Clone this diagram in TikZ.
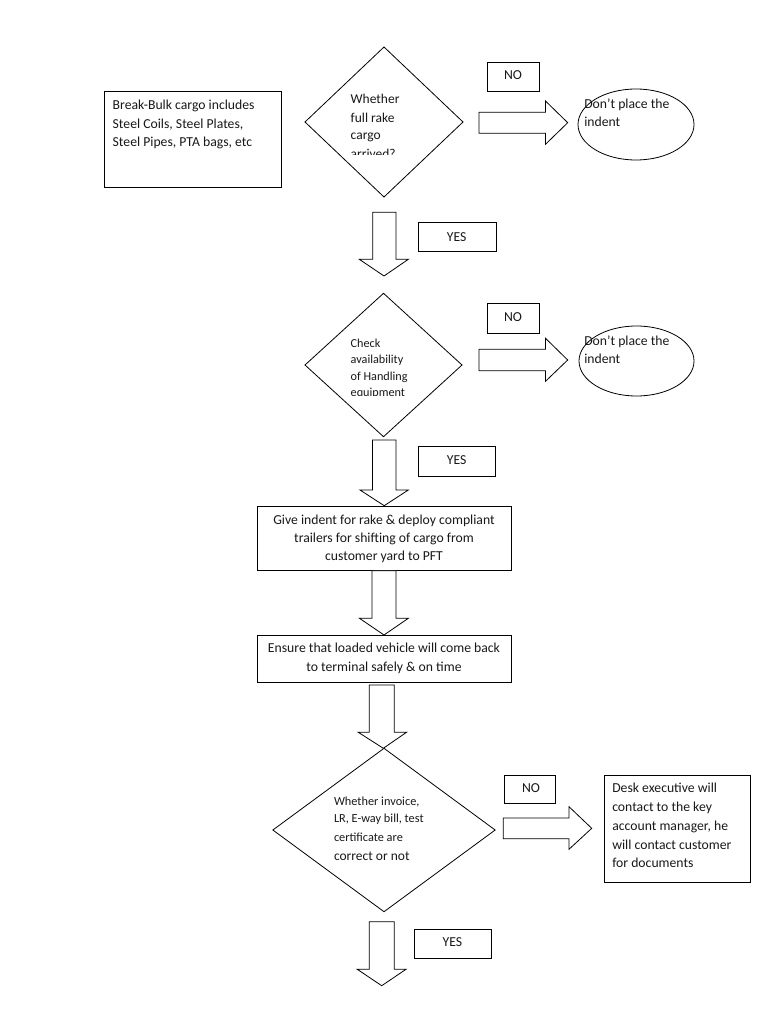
\documentclass[tikz,border=0pt]{standalone}
\usepackage{fontspec}
\setmainfont{Carlito}
\usetikzlibrary{shapes.geometric}
\tikzset{
  shp/.style={draw=black, line width=0.8pt},
  boxn/.style={shp, rectangle, inner sep=0pt, outer sep=0pt},
  ell/.style={shp, ellipse, inner sep=0pt, outer sep=0pt},
  dia/.style={shp, diamond, inner sep=0pt, outer sep=0pt},
  tx/.style={inner sep=0pt, outer sep=0pt, text=black!90, font=\fontsize{13.7}{16}\selectfont},
  txs/.style={inner sep=0pt, outer sep=0pt, text=black!90, font=\fontsize{12.3}{15}\selectfont},
  barrow/.style={shp, fill=white, line join=miter},
}
% down block arrow: shaft left x, shaft right x, top y, head y, head left x, head right x, tip x, tip y
\newcommand{\DownBlock}[8]{\draw[barrow] (#1,#3) -- (#2,#3) -- (#2,#4) -- (#6,#4) -- (#7,#8) -- (#5,#4) -- (#1,#4) -- cycle;}
% right block arrow: shaft left x, shaft top y, shaft bottom y, head base x, head top y, head bottom y, tip x, tip y
\newcommand{\RightBlock}[8]{\draw[barrow] (#1,#2) -- (#4,#2) -- (#4,#5) -- (#7,#8) -- (#4,#6) -- (#4,#3) -- (#1,#3) -- cycle;}
\begin{document}
\begin{tikzpicture}[x=1pt,y=-1pt]
\useasboundingbox[fill=white] (0,0) rectangle (768,1024);

% ---------- shapes ----------
\node[boxn, minimum width=177pt, minimum height=96pt] (bb) at (192.5,139) {};
\node[dia, minimum width=158pt, minimum height=150pt] (d1) at (384,122) {};
\node[boxn, minimum width=52pt, minimum height=29.4pt] (no1) at (513,77) {};
\node[ell, minimum width=116pt, minimum height=71pt] (e1) at (636,124.5) {};
\node[boxn, minimum width=78pt, minimum height=29.4pt] (yes1) at (457,237) {};

\node[dia, minimum width=157pt, minimum height=143.4pt] (d2) at (383.5,365) {};
\node[boxn, minimum width=52pt, minimum height=30pt] (no2) at (513,318.3) {};
\node[ell, minimum width=115pt, minimum height=70pt] (e2) at (636.5,361) {};
\node[boxn, minimum width=76.7pt, minimum height=29.3pt] (yes2) at (456.7,461.3) {};

\node[boxn, minimum width=254.4pt, minimum height=64pt] (give) at (384.5,538) {};
\node[boxn, minimum width=254.4pt, minimum height=46.6pt] (ens) at (384.5,659) {};

\node[dia, minimum width=222.3pt, minimum height=163.4pt] (d3) at (384,830) {};
\node[boxn, minimum width=50.7pt, minimum height=28.3pt] (no3) at (529.7,789.2) {};
\node[boxn, minimum width=145.7pt, minimum height=107.3pt] (desk) at (677.2,828.7) {};
\node[boxn, minimum width=77.7pt, minimum height=29.3pt] (yes3) at (452.8,943.7) {};

% ---------- block arrows ----------
\RightBlock{479}{112.3}{133.3}{545.5}{101}{144.3}{567.7}{122.7}
\RightBlock{479}{349.3}{370.7}{545.5}{338.3}{381.3}{567.7}{360}
\RightBlock{503.3}{818}{838.7}{569}{806.7}{849.3}{591.7}{828.3}
\DownBlock{372.7}{396}{212.3}{259.3}{359.3}{408.3}{384}{276}
\DownBlock{372.5}{396}{440}{490}{360}{408.3}{384.2}{505.7}
\DownBlock{372}{396}{570.7}{618.3}{359.5}{408.3}{384}{635}
\DownBlock{369.3}{394.3}{685}{732.3}{358.3}{406.5}{383.3}{748.3}
\DownBlock{369.3}{394.3}{921.7}{969.3}{357.3}{406}{381.7}{985.7}

% ---------- texts ----------
\node[tx, anchor=base west] (bbt1) at (112.7,110) {Break-Bulk cargo includes};
\node[tx, anchor=base west] (bbt2) at (112.7,128.3) {Steel Coils, Steel Plates,};
\node[tx, anchor=base west] (bbt3) at (112.7,146.7) {Steel Pipes, PTA bags, etc};

\node[tx, font=\fontsize{13.5}{16}\selectfont, anchor=base west] (d1t1) at (350.7,104) {Whether};
\node[tx, font=\fontsize{13.5}{16}\selectfont, anchor=base west] (d1t2) at (350.7,122.3) {full rake};
\node[tx, font=\fontsize{13.5}{16}\selectfont, anchor=base west] (d1t3) at (350.7,140) {cargo};
\begin{scope}
  \clip (330,130) rectangle (440,154.5);
  \node[tx, font=\fontsize{13.5}{16}\selectfont, anchor=base west] (d1t4) at (350.7,158.3) {arrived?};
\end{scope}

\node[tx, anchor=base] (no1t) at (513,80) {NO};
\node[tx, anchor=base west] (e1t1) at (584.3,108.3) {Don’t place the};
\node[tx, anchor=base west] (e1t2) at (584.3,126.7) {indent};
\node[tx, anchor=base] (yes1t) at (456.7,241) {YES};

\node[txs, font=\fontsize{12.2}{15}\selectfont, anchor=base west] (d2t1) at (350.7,347) {Check};
\node[txs, font=\fontsize{12.2}{15}\selectfont, anchor=base west] (d2t2) at (350.7,363.3) {availability};
\node[txs, font=\fontsize{12.2}{15}\selectfont, anchor=base west] (d2t3) at (350.7,380) {of Handling};
\begin{scope}
  \clip (330,385) rectangle (440,395);
  \node[txs, font=\fontsize{12.2}{15}\selectfont, anchor=base west] (d2t4) at (350.7,396.5) {equipment};
\end{scope}

\node[tx, anchor=base] (no2t) at (513,321.7) {NO};
\node[tx, anchor=base west] (e2t1) at (584.3,345) {Don’t place the};
\node[tx, anchor=base west] (e2t2) at (584.3,363.3) {indent};
\node[tx, anchor=base] (yes2t) at (456.7,464.7) {YES};

\node[tx, anchor=base] (gt1) at (384,524.3) {Give indent for rake \& deploy compliant};
\node[tx, anchor=base] (gt2) at (384,542.7) {trailers for shifting of cargo from};
\node[tx, anchor=base] (gt3) at (384,560.7) {customer yard to PFT};

\node[tx, anchor=base] (et1) at (384,652.3) {Ensure that loaded vehicle will come back};
\node[tx, anchor=base] (et2) at (384,671) {to terminal safely \& on time};

\node[txs, anchor=base west] (d3t1) at (334,805.7) {Whether invoice,};
\node[txs, anchor=base west] (d3t2) at (334,822.7) {LR, E-way bill, test};
\node[txs, anchor=base west] (d3t3) at (334,841.7) {certificate are};
\node[tx, font=\fontsize{13.5}{16}\selectfont, anchor=base west] (d3t4) at (334,860) {correct or not};

\node[tx, anchor=base] (no3t) at (531,792.7) {NO};
\node[tx, anchor=base west] (dt1) at (612.3,792.7) {Desk executive will};
\node[tx, anchor=base west] (dt2) at (612.3,811.7) {contact to the key};
\node[tx, anchor=base west] (dt3) at (612.3,830.7) {account manager, he};
\node[tx, anchor=base west] (dt4) at (612.3,849.3) {will contact customer};
\node[tx, anchor=base west] (dt5) at (612.3,867.3) {for documents};
\node[tx, anchor=base] (yes3t) at (452.5,946.7) {YES};
\end{tikzpicture}
\end{document}
